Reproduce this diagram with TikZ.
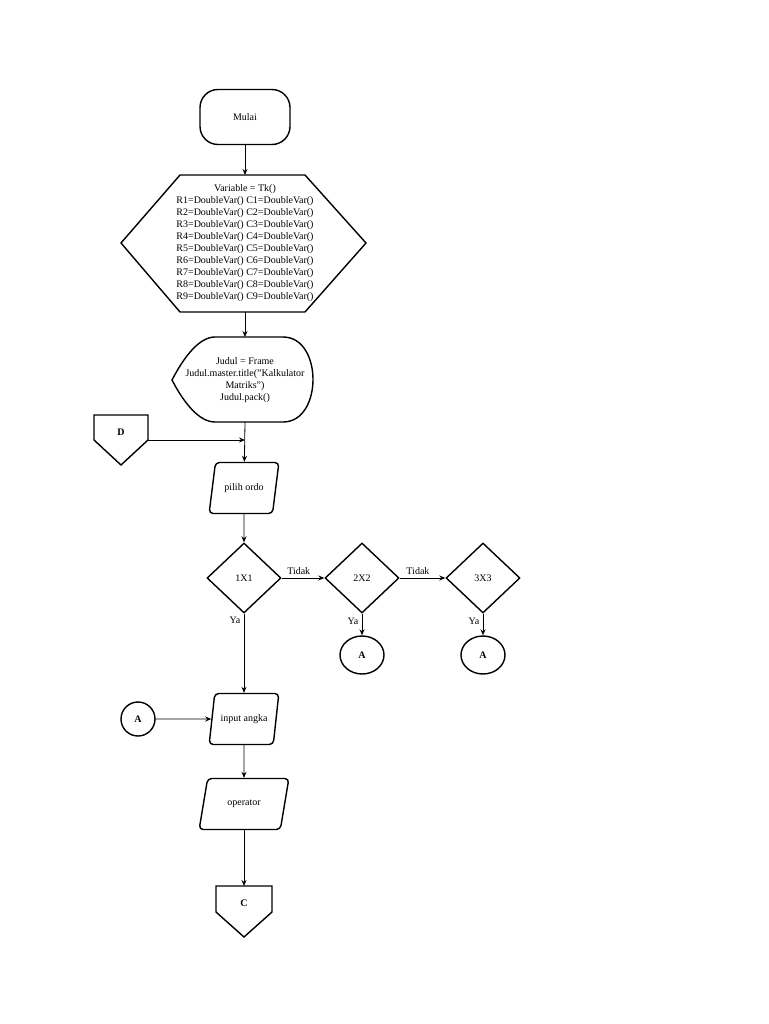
\documentclass[tikz,border=0pt]{standalone}
\usepackage{fontspec}
\setmainfont{Liberation Serif}
\usetikzlibrary{arrows.meta,shapes.geometric}
\begin{document}
\begin{tikzpicture}[x=1pt,y=-1pt,
  shp/.style={draw,line width=1.4pt,font=\fontsize{10}{12}\selectfont},
  con/.style={line width=0.8pt,-{Stealth[length=6pt,width=5pt]}},
  lbl/.style={font=\fontsize{10}{12}\selectfont},
  dia/.style={shp,diamond,minimum width=74pt,minimum height=70pt,inner sep=0pt},
  para/.style={shp,trapezium,trapezium left angle=72,trapezium right angle=108,rounded corners=4pt,minimum width=70pt,minimum height=51pt,trapezium stretches=true},
  circ/.style={shp,ellipse,minimum width=44pt,minimum height=38pt,font=\bfseries\fontsize{10}{12}\selectfont}]
\useasboundingbox (0,0) rectangle (768,1024);
\fill[white] (0,0) rectangle (768,1024);
\node[shp,rounded corners=18pt,minimum width=90pt,minimum height=55pt] (mulai) at (245,117) {Mulai};
% hexagon
\draw[shp] (180,175) -- (305,175) -- (366,243) -- (305,312) -- (180,312) -- (121,243) -- cycle;
\node[lbl,align=center,inner sep=0pt,font=\fontsize{10}{12}\selectfont] (hex) at (245,243) {Variable = Tk()\\
R1=DoubleVar() C1=DoubleVar()\\R2=DoubleVar() C2=DoubleVar()\\R3=DoubleVar() C3=DoubleVar()\\R4=DoubleVar() C4=DoubleVar()\\R5=DoubleVar() C5=DoubleVar()\\R6=DoubleVar() C6=DoubleVar()\\R7=DoubleVar() C7=DoubleVar()\\R8=DoubleVar() C8=DoubleVar()\\R9=DoubleVar() C9=DoubleVar()};
\coordinate (hexT) at (245,175); \coordinate (hexB) at (245,312);
% display
\draw[shp] (172,380) .. controls (185,355) and (200,337) .. (215,337) -- (283,337) .. controls (323,337) and (323,422) .. (283,422) -- (215,422) .. controls (200,422) and (185,405) .. cycle;
\node[lbl,align=center,inner sep=0pt] (judul) at (245,380) {Judul = Frame\\Judul.master.title("Kalkulator\\Matriks")\\Judul.pack()};
\coordinate (judT) at (245,337); \coordinate (judB) at (245,422);
% D
\draw[shp] (94,415) -- (148,415) -- (148,440) -- (121,465) -- (94,440) -- cycle;
\node[lbl,font=\bfseries\fontsize{10}{12}\selectfont] (D) at (121,432) {D};
\coordinate (dR) at (148,440); \coordinate (jn) at (245,440);
\node[para] (pilih) at (244,488) {pilih ordo};
\node[dia] (d1) at (244,578) {1X1};
\node[dia] (d2) at (362,578) {2X2};
\node[dia] (d3) at (483,578) {3X3};
\node[circ] (a2) at (362,655) {A};
\node[circ] (a3) at (483,655) {A};
\node[para] (inp) at (244,719) {input angka};
\node[shp,circle,minimum size=34pt,inner sep=0pt,font=\bfseries\fontsize{10}{12}\selectfont] (a1) at (138,719) {A};
\node[para,minimum width=90pt] (op) at (244,804) {operator};
\draw[shp] (216,886) -- (272,886) -- (272,912) -- (244,937) -- (216,912) -- cycle;
\node[lbl,font=\bfseries\fontsize{10}{12}\selectfont] (C) at (244,903) {C};
\coordinate (cT) at (244,886);
\draw[con] (mulai) -- (hexT);
\draw[con] (hexB) -- (judT);
\draw[con] (judB) -- (pilih);
\draw[con] (dR) -- (jn);
\draw[con] (pilih) -- (d1);
\draw[con] (d1) -- node[lbl,above,pos=0.4]{Tidak} (d2);
\draw[con] (d2) -- node[lbl,above,pos=0.4]{Tidak} (d3);
\draw[con] (d1) -- node[lbl,left,pos=0.08]{Ya} (inp);
\draw[con] (d2) -- node[lbl,left,pos=0.35]{Ya} (a2);
\draw[con] (d3) -- node[lbl,left,pos=0.35]{Ya} (a3);
\draw[con] (a1) -- (inp);
\draw[con] (inp) -- (op);
\draw[con] (op) -- (cT);
\end{tikzpicture}
\end{document}
